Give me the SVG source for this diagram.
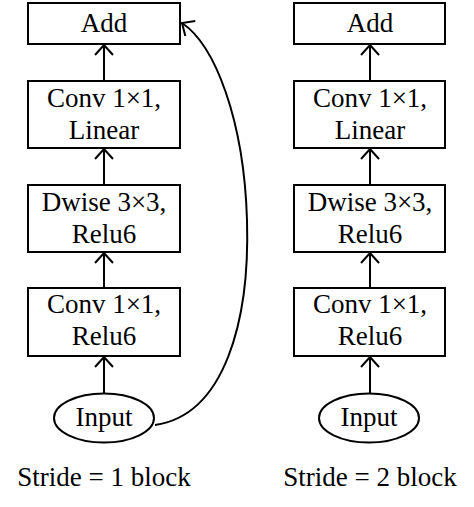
<svg xmlns="http://www.w3.org/2000/svg" width="474" height="507" viewBox="0 0 474 507">
<style>
.box{fill:#fff;stroke:#000;stroke-width:2}
.t{font-family:"Liberation Serif","Times New Roman",serif;font-size:27px;fill:#000;text-anchor:middle}
.c{fill:none;stroke:#000;stroke-width:2}
</style>
<defs>
<marker id="ah" viewBox="-12 -11 14 22" refX="0" refY="0" markerWidth="14" markerHeight="22" markerUnits="userSpaceOnUse" orient="auto">
<path d="M-10,-9 L0,0 L-10,9" fill="none" stroke="#000" stroke-width="2"/>
</marker>
</defs>
<rect width="474" height="507" fill="#fff"/>
<g id="connectors">
<line class="c" x1="104" y1="81" x2="104" y2="45" marker-end="url(#ah)"/>
<line class="c" x1="104" y1="185" x2="104" y2="149" marker-end="url(#ah)"/>
<line class="c" x1="104" y1="288" x2="104" y2="253" marker-end="url(#ah)"/>
<line class="c" x1="104" y1="393" x2="104" y2="357" marker-end="url(#ah)"/>
<path class="c" d="M155,425 C225,415 250,320 247,220 C244,120 215,45 182,23" marker-end="url(#ah)"/>
<line class="c" x1="370" y1="81" x2="370" y2="45" marker-end="url(#ah)"/>
<line class="c" x1="370" y1="185" x2="370" y2="149" marker-end="url(#ah)"/>
<line class="c" x1="370" y1="288" x2="370" y2="253" marker-end="url(#ah)"/>
<line class="c" x1="370" y1="393" x2="370" y2="357" marker-end="url(#ah)"/>
</g>
<g id="add1"><rect class="box" x="28" y="3" width="152" height="41"/><text class="t" x="104" y="32">Add</text></g>
<g id="conv_linear1"><rect class="box" x="28" y="81" width="152" height="67"/><text class="t" x="104" y="107">Conv 1×1,</text><text class="t" x="104" y="139">Linear</text></g>
<g id="dwise1"><rect class="box" x="28" y="185" width="152" height="67"/><text class="t" x="104" y="211">Dwise 3×3,</text><text class="t" x="104" y="243">Relu6</text></g>
<g id="conv_relu1"><rect class="box" x="28" y="288" width="152" height="68"/><text class="t" x="104" y="313">Conv 1×1,</text><text class="t" x="104" y="345">Relu6</text></g>
<g id="input1"><ellipse class="box" cx="104" cy="418" rx="50" ry="24.5"/><text class="t" x="104" y="426">Input</text></g>
<g id="add2"><rect class="box" x="294" y="3" width="151" height="41"/><text class="t" x="370" y="32">Add</text></g>
<g id="conv_linear2"><rect class="box" x="294" y="81" width="151" height="67"/><text class="t" x="370" y="107">Conv 1×1,</text><text class="t" x="370" y="139">Linear</text></g>
<g id="dwise2"><rect class="box" x="294" y="185" width="151" height="67"/><text class="t" x="370" y="211">Dwise 3×3,</text><text class="t" x="370" y="243">Relu6</text></g>
<g id="conv_relu2"><rect class="box" x="294" y="288" width="151" height="68"/><text class="t" x="370" y="313">Conv 1×1,</text><text class="t" x="370" y="345">Relu6</text></g>
<g id="input2"><ellipse class="box" cx="369" cy="418" rx="50" ry="24.5"/><text class="t" x="369" y="426">Input</text></g>
<text class="t" x="104" y="486">Stride = 1 block</text>
<text class="t" x="370" y="486">Stride = 2 block</text>
</svg>
